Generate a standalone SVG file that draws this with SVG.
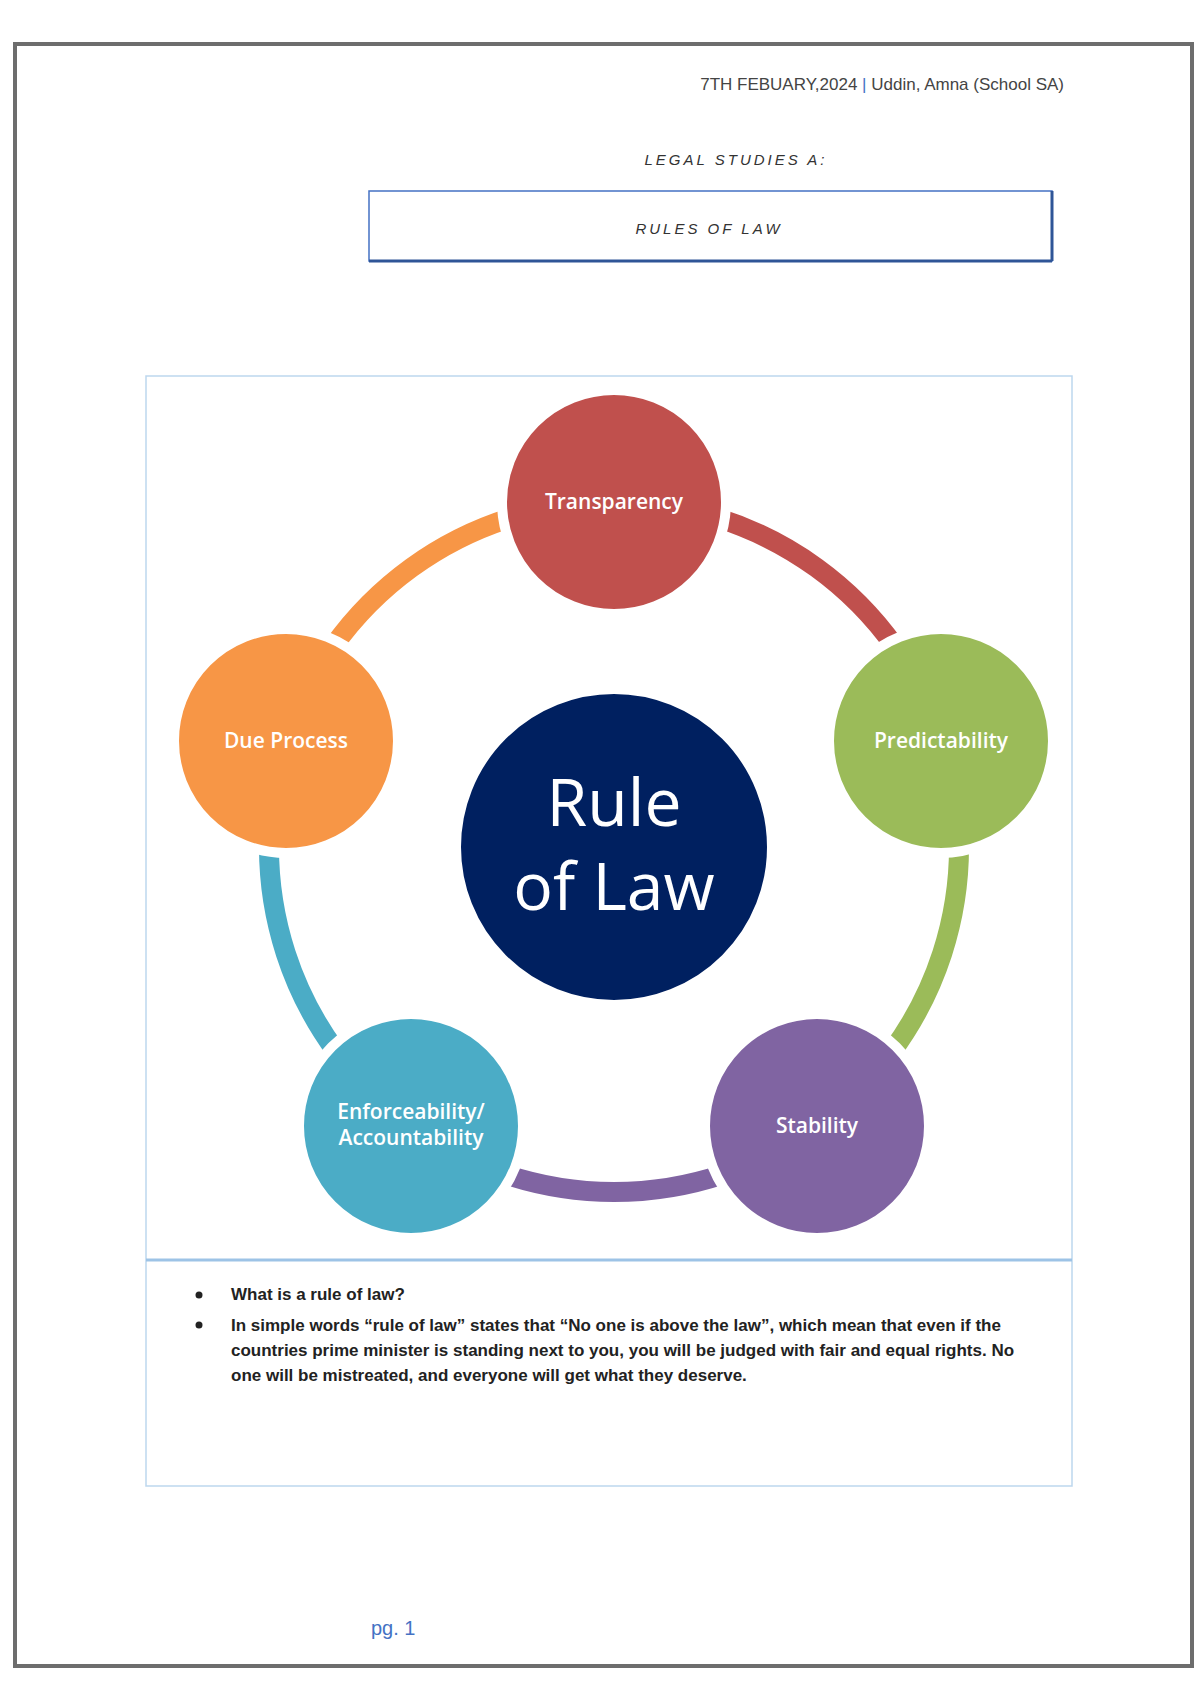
<svg xmlns="http://www.w3.org/2000/svg" width="1200" height="1696" viewBox="0 0 1200 1696">
<style>
.sat{font-family:"Open Sans","Liberation Sans",sans-serif;font-size:21px;font-weight:600;fill:#fff;text-anchor:middle}
.arc{fill:none;stroke-width:20}
.node{stroke:#fff;stroke-width:10}
.b{font-family:"Liberation Sans",sans-serif;font-size:17px;font-weight:bold;fill:#222}
.cap{font-family:"Liberation Sans",sans-serif;font-style:italic;font-size:15px;letter-spacing:3px;fill:#333;text-anchor:middle}
</style>
<rect width="1200" height="1696" fill="#fff"/>
<rect x="15" y="44" width="1177" height="1622" fill="none" stroke="#6d6d6d" stroke-width="4"/>
<text x="1064" y="90" text-anchor="end" font-family="Liberation Sans,sans-serif" font-size="17" fill="#444">7TH FEBUARY,2024 <tspan fill="#4472C4">|</tspan> Uddin, Amna (School SA)</text>
<text class="cap" x="736" y="165">LEGAL STUDIES A:</text>
<rect x="369" y="191" width="683" height="70" fill="#fff" stroke="#4472C4" stroke-width="1.5"/>
<line x1="369" y1="261" x2="1052" y2="261" stroke="#2F5597" stroke-width="3"/>
<line x1="1052" y1="191" x2="1052" y2="261" stroke="#2F5597" stroke-width="3"/>
<text class="cap" x="709" y="234">RULES OF LAW</text>
<rect x="146" y="376" width="926" height="1110" fill="none" stroke="#BDD7EE" stroke-width="1.5"/>
<line x1="146" y1="1260" x2="1072" y2="1260" stroke="#9DC3E6" stroke-width="3"/>
<g id="connectors">
<path class="arc" stroke="#C0504D" d="M614 502 A345 345 0 0 1 942 740"/>
<path class="arc" stroke="#9BBB59" d="M942 740 A345 345 0 0 1 817 1126"/>
<path class="arc" stroke="#8064A2" d="M817 1126 A345 345 0 0 1 411 1126"/>
<path class="arc" stroke="#4BACC6" d="M411 1126 A345 345 0 0 1 286 740"/>
<path class="arc" stroke="#F79646" d="M286 740 A345 345 0 0 1 614 502"/>
</g>
<g id="center"><circle cx="614" cy="847" r="158" fill="#002060" class="node"/>
<text x="614" y="826" text-anchor="middle" font-family="Open Sans,Liberation Sans,sans-serif" font-size="66" fill="#fff">Rule</text>
<text x="614" y="910" text-anchor="middle" font-family="Open Sans,Liberation Sans,sans-serif" font-size="66" fill="#fff">of Law</text></g>
<g id="transparency"><circle cx="614" cy="502" r="112" fill="#C0504D" class="node"/><text class="sat" x="614" y="509">Transparency</text></g>
<g id="predictability"><circle cx="941" cy="741" r="112" fill="#9BBB59" class="node"/><text class="sat" x="941" y="748">Predictability</text></g>
<g id="stability"><circle cx="817" cy="1126" r="112" fill="#8064A2" class="node"/><text class="sat" x="817" y="1133">Stability</text></g>
<g id="enforceability"><circle cx="411" cy="1126" r="112" fill="#4BACC6" class="node"/><text class="sat" x="411" y="1119">Enforceability/</text><text class="sat" x="411" y="1145">Accountability</text></g>
<g id="dueprocess"><circle cx="286" cy="741" r="112" fill="#F79646" class="node"/><text class="sat" x="286" y="748">Due Process</text></g>
<circle cx="199" cy="1295" r="3.5" fill="#222"/>
<circle cx="199" cy="1325" r="3.5" fill="#222"/>
<text class="b" x="231" y="1300">What is a rule of law?</text>
<text class="b" x="231" y="1331">In simple words “rule of law” states that “No one is above the law”, which mean that even if the</text>
<text class="b" x="231" y="1356">countries prime minister is standing next to you, you will be judged with fair and equal rights. No</text>
<text class="b" x="231" y="1381">one will be mistreated, and everyone will get what they deserve.</text>
<text x="371" y="1635" font-family="Liberation Sans,sans-serif" font-size="20" fill="#4472C4">pg. 1</text>
</svg>
